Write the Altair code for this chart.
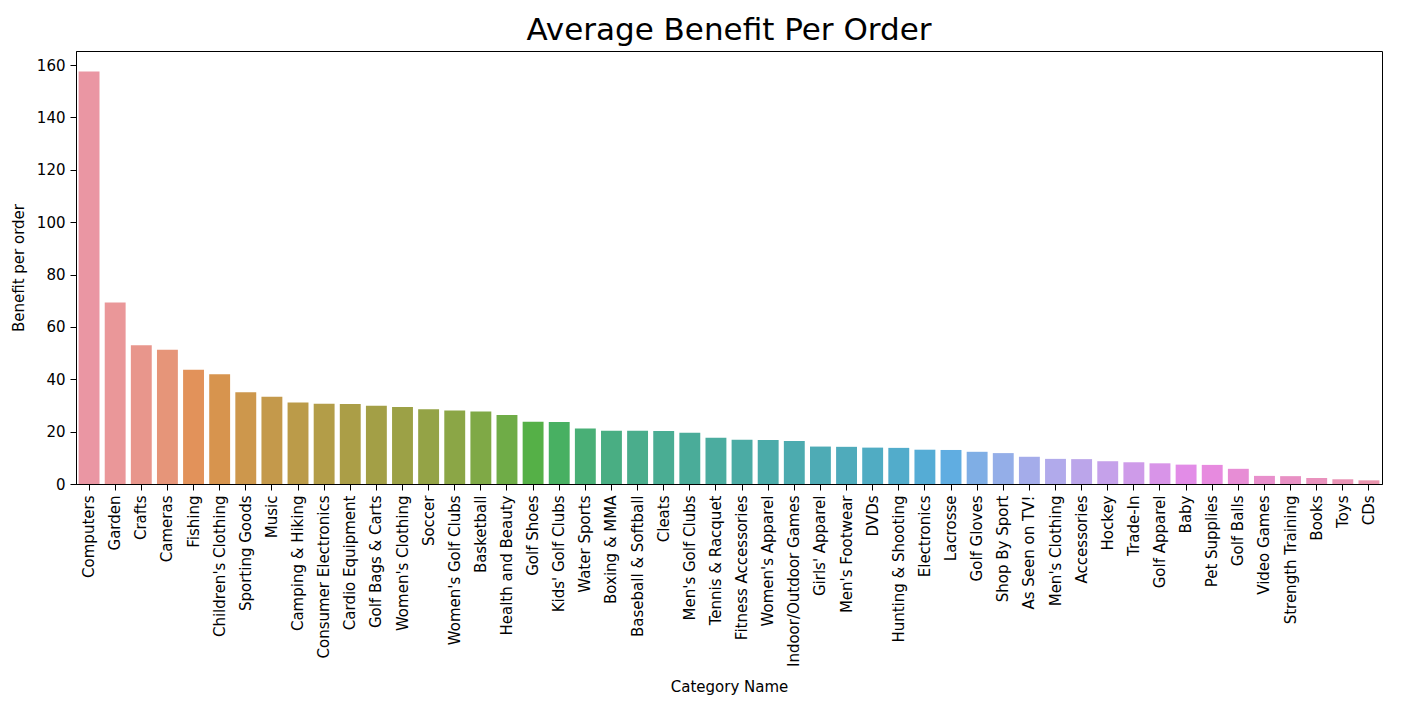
import math
import colorsys
import altair as alt
import pandas as pd

categories = [
    "Computers", "Garden", "Crafts", "Cameras", "Fishing", "Children's Clothing",
    "Sporting Goods", "Music", "Camping & Hiking", "Consumer Electronics",
    "Cardio Equipment", "Golf Bags & Carts", "Women's Clothing", "Soccer",
    "Women's Golf Clubs", "Basketball", "Health and Beauty", "Golf Shoes",
    "Kids' Golf Clubs", "Water Sports", "Boxing & MMA", "Baseball & Softball",
    "Cleats", "Men's Golf Clubs", "Tennis & Racquet", "Fitness Accessories",
    "Women's Apparel", "Indoor/Outdoor Games", "Girls' Apparel", "Men's Footwear",
    "DVDs", "Hunting & Shooting", "Electronics", "Lacrosse", "Golf Gloves",
    "Shop By Sport", "As Seen on  TV!", "Men's Clothing", "Accessories", "Hockey",
    "Trade-In", "Golf Apparel", "Baby", "Pet Supplies", "Golf Balls",
    "Video Games", "Strength Training", "Books", "Toys", "CDs",
]
values = [
    157.6, 69.3, 53.0, 51.3, 43.6, 41.9, 35.0, 33.3, 31.1, 30.7,
    30.6, 29.9, 29.4, 28.6, 28.1, 27.7, 26.4, 23.8, 23.7, 21.2,
    20.3, 20.3, 20.2, 19.6, 17.7, 16.9, 16.8, 16.4, 14.3, 14.2,
    13.9, 13.8, 13.1, 13.0, 12.3, 11.8, 10.4, 9.6, 9.5, 8.7,
    8.3, 7.9, 7.4, 7.3, 5.8, 3.1, 3.0, 2.3, 1.8, 1.4,
]

# ---- seaborn-like husl palette (style only) ----
_m = [[3.2406, -1.5372, -0.4986],
      [-0.9689, 1.8758, 0.0415],
      [0.0557, -0.2040, 1.0570]]
_refU, _refV = 0.19784, 0.46834
_lab_e, _lab_k = 0.008856, 903.3


def _max_chroma(L, H):
    hrad = math.radians(H)
    sinH, cosH = math.sin(hrad), math.cos(hrad)
    sub1 = (L + 16) ** 3 / 1560896.0
    sub2 = sub1 if sub1 > _lab_e else L / _lab_k
    result = float("inf")
    for m1, m2, m3 in _m:
        top = (0.99915 * m1 + 1.05122 * m2 + 1.14460 * m3) * sub2
        rbottom = 0.86330 * m3 - 0.17266 * m2
        lbottom = 0.12949 * m3 - 0.38848 * m1
        bottom = (rbottom * sinH + lbottom * cosH) * sub2
        for t in (0.0, 1.0):
            C = L * (top - 1.05122 * t) / (bottom + 0.17266 * sinH * t)
            if 0.0 < C < result:
                result = C
    return result


def _f_inv(t):
    return t ** 3 if t ** 3 > _lab_e else (116.0 * t - 16.0) / _lab_k


def _from_linear(c):
    return 12.92 * c if c <= 0.0031308 else 1.055 * c ** (1 / 2.4) - 0.055


def husl_to_rgb(H, S, L):
    C = _max_chroma(L, H) / 100.0 * S
    hr = math.radians(H)
    U, V = math.cos(hr) * C, math.sin(hr) * C
    varY = _f_inv((L + 16.0) / 116.0)
    varU = U / (13.0 * L) + _refU
    varV = V / (13.0 * L) + _refV
    Y = varY
    X = 0.0 - (9.0 * Y * varU) / ((varU - 4.0) * varV - varU * varV)
    Z = (9.0 * Y - 15.0 * varV * Y - varV * X) / (3.0 * varV)
    rgb = [_from_linear(r[0] * X + r[1] * Y + r[2] * Z) for r in _m]
    return [min(max(c, 0.0), 1.0) for c in rgb]


def palette(n, h=0.01, s=0.9, l=0.7, sat=0.75):
    out = []
    for i in range(n):
        hue = ((i / n + h) % 1) * 359
        r, g, b = husl_to_rgb(hue, s * 99, l * 99)
        hh, ll, ss = colorsys.rgb_to_hls(r, g, b)
        r, g, b = colorsys.hls_to_rgb(hh, ll, ss * sat)
        out.append("#%02x%02x%02x" % tuple(int(round(c * 255)) for c in (r, g, b)))
    return out


colors = palette(len(categories))

df = pd.DataFrame({"Category Name": categories, "Benefit per order": values})

FONT = "DejaVu Sans"

chart = alt.Chart(df).mark_bar().encode(
    x=alt.X(
        "Category Name:N",
        sort=categories,
        scale=alt.Scale(paddingInner=0.2, paddingOuter=0.1),
        axis=alt.Axis(labelAngle=-90, title="Category Name", titlePadding=13),
    ),
    y=alt.Y(
        "Benefit per order:Q",
        scale=alt.Scale(domain=[0, 165.4], nice=False, zero=True),
        axis=alt.Axis(values=[0, 20, 40, 60, 80, 100, 120, 140, 160],
                      title="Benefit per order", titlePadding=10),
    ),
    color=alt.Color("Category Name:N",
                    scale=alt.Scale(domain=categories, range=colors),
                    legend=None),
).properties(
    width=1306,
    height=433,
    title=alt.TitleParams("Average Benefit Per Order", fontSize=31,
                          fontWeight="normal", font=FONT, anchor="middle",
                          offset=4, color="black"),
    autosize=alt.AutoSizeParams(type="none"),
    padding={"left": 68, "top": 43, "right": 22, "bottom": 217},
).configure_view(
    stroke="black", strokeWidth=1
).configure_axis(
    grid=False,
    domainColor="black",
    tickColor="black",
    tickSize=6,
    labelPadding=5,
    labelFont=FONT,
    labelFontSize=15,
    labelColor="black",
    titleFont=FONT,
    titleFontSize=15,
    titleFontWeight="normal",
    titleColor="black",
)

chart.save("out.html", embed_options={"renderer": "svg", "actions": False})
